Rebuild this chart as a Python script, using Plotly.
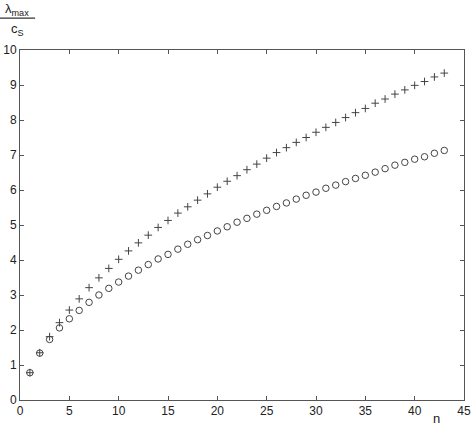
import plotly.graph_objects as go

n = list(range(1, 44))
circles = [0.78, 1.34, 1.73, 2.06, 2.32, 2.56, 2.79, 3.00, 3.19, 3.37,
           3.54, 3.71, 3.87, 4.03, 4.16, 4.31, 4.45, 4.58, 4.70, 4.83,
           4.95, 5.08, 5.19, 5.31, 5.42, 5.53, 5.63, 5.74, 5.85, 5.94,
           6.05, 6.14, 6.24, 6.33, 6.42, 6.51, 6.61, 6.71, 6.79, 6.88,
           6.95, 7.05, 7.13]
pluses = [0.78, 1.35, 1.81, 2.21, 2.57, 2.89, 3.21, 3.49, 3.76, 4.02,
          4.26, 4.49, 4.71, 4.93, 5.13, 5.34, 5.52, 5.71, 5.89, 6.08,
          6.25, 6.41, 6.58, 6.74, 6.91, 7.07, 7.21, 7.36, 7.50, 7.65,
          7.79, 7.93, 8.07, 8.21, 8.33, 8.48, 8.60, 8.74, 8.86, 8.99,
          9.10, 9.23, 9.34]
xticks = [0, 5, 10, 15, 20, 25, 30, 35, 40, 45]
yticks = list(range(0, 11))

C = "#444444"
fig = go.Figure()
fig.add_trace(go.Scatter(x=n, y=circles, mode="markers",
                         marker=dict(symbol="circle-open", size=6.5, color=C,
                                     line=dict(width=1, color=C))))
fig.add_trace(go.Scatter(x=n, y=pluses, mode="markers",
                         marker=dict(symbol="cross-thin-open", size=5.5, color=C,
                                     line=dict(width=1, color=C))))

axis_common = dict(showgrid=False, zeroline=False, showline=True, mirror="ticks",
                   linecolor="#555555", linewidth=1, ticks="inside", ticklen=4,
                   tickcolor="#555555", automargin=False,
                   tickfont=dict(family="Liberation Sans, Arial", size=12, color="#222222"))
fig.update_xaxes(range=[0, 45], tickvals=xticks, **axis_common)
fig.update_yaxes(range=[0, 10], tickvals=yticks, **axis_common)

fig.update_layout(
    width=474, height=426, showlegend=False,
    plot_bgcolor="white", paper_bgcolor="white",
    margin=dict(l=20, r=10, t=50, b=26, autoexpand=False),
    font=dict(family="Liberation Sans, Arial", size=12, color="#222222"),
    annotations=[
        dict(text="λ<sub>max</sub>", xref="paper", yref="paper", x=-0.007, y=1.117,
             xanchor="center", yanchor="middle", showarrow=False,
             font=dict(size=13, color="#222222")),
        dict(text="c<sub>S</sub>", xref="paper", yref="paper", x=-0.005, y=1.058,
             xanchor="center", yanchor="middle", showarrow=False,
             font=dict(size=13, color="#222222")),
        dict(text="n", xref="paper", yref="paper", x=0.939, y=-0.052,
             xanchor="center", yanchor="middle", showarrow=False,
             font=dict(size=13, color="#222222")),
    ],
    shapes=[dict(type="line", xref="paper", yref="paper", x0=-0.045, x1=0.034,
                 y0=1.091, y1=1.091, line=dict(color="#333333", width=1.2))],
)
fig.write_html("out.html", config={"displayModeBar": False},
               post_script="document.body.style.margin='0';document.body.style.overflow='hidden';")
